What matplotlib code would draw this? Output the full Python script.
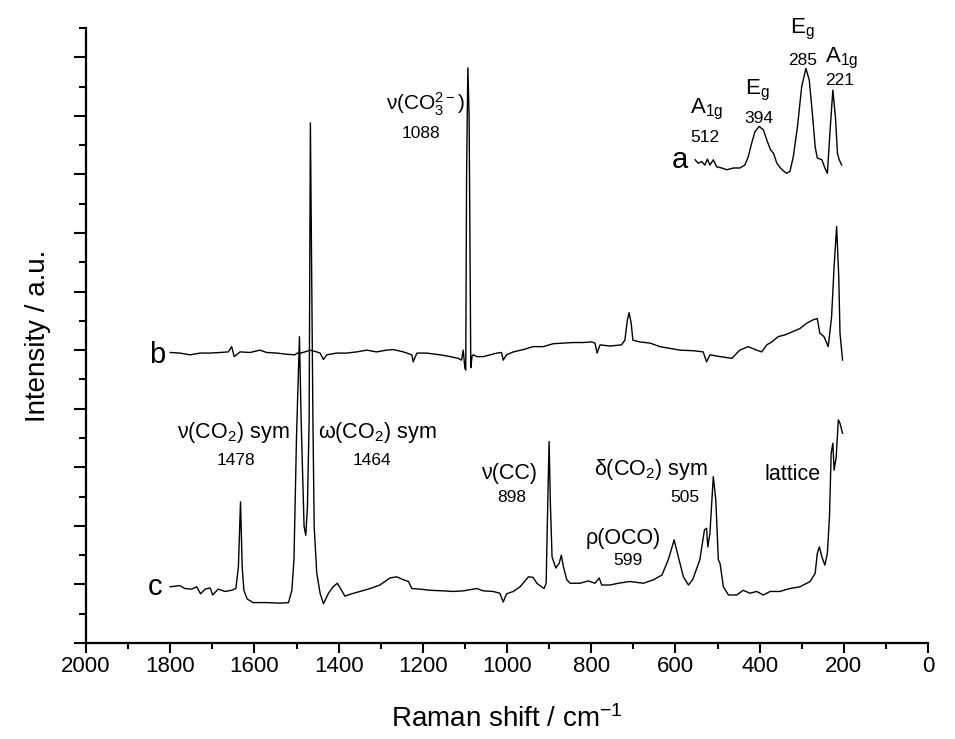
import matplotlib
matplotlib.use("Agg")
import matplotlib.pyplot as plt
from matplotlib.ticker import MultipleLocator, NullFormatter

plt.rcParams['font.family'] = ['Liberation Sans', 'DejaVu Sans']
plt.rcParams['mathtext.fontset'] = 'custom'
plt.rcParams['mathtext.rm'] = 'Liberation Sans'
plt.rcParams['mathtext.it'] = 'Liberation Sans'
plt.rcParams['mathtext.bf'] = 'Liberation Sans:bold'
plt.rcParams['mathtext.default'] = 'regular'

# ---------------- data (Raman shift / cm-1, intensity in a.u.) ----------------
a_x = [553, 546, 538, 530, 524, 518, 510, 502, 490, 478, 462, 447, 435, 427, 419,
       411, 401, 391, 383, 374, 367, 359, 347, 336, 328, 320, 310, 300, 290, 282,
       274, 268, 263, 252, 245, 239, 233, 226, 220, 215, 211, 205]
a_y = [0.25, 0.19, 0.22, 0.16, 0.26, 0.16, 0.25, 0.13, 0.11, 0.08, 0.11, 0.11, 0.16,
       0.30, 0.53, 0.73, 0.82, 0.76, 0.59, 0.42, 0.36, 0.19, 0.08, 0.02, 0.05, 0.30,
       0.82, 1.50, 1.81, 1.61, 0.99, 0.47, 0.28, 0.25, 0.11, 0.02, 0.70, 1.44, 0.99,
       0.36, 0.25, 0.16]

b_x = [1800, 1777, 1753, 1729, 1705, 1682, 1662, 1654, 1648, 1634, 1610, 1587, 1571,
       1547, 1523, 1504, 1498, 1490, 1480, 1468, 1452, 1444, 1436, 1428, 1405, 1381,
       1357, 1333, 1310, 1286, 1270, 1246, 1226, 1223, 1214, 1191, 1159, 1135, 1116,
       1108, 1104, 1100, 1098, 1096, 1093, 1090, 1086, 1083, 1080, 1072, 1056, 1040,
       1024, 1013, 1009, 1001, 985, 961, 938, 914, 890, 866, 843, 819, 799, 791, 786,
       779, 755, 728, 720, 714, 710, 705, 701, 684, 660, 637, 613, 589, 557, 534, 526,
       518, 494, 466, 447, 427, 407, 395, 383, 371, 356, 340, 320, 304, 288, 272, 263,
       257, 247, 237, 229, 223, 217, 212, 209, 203]
b_y = [-0.04, -0.05, -0.08, -0.05, -0.05, -0.04, -0.03, 0.06, -0.11, -0.03, -0.04,
       0.00, -0.04, -0.05, -0.07, -0.08, -0.05, -0.05, -0.03, 0.00, -0.03, -0.05,
       -0.16, -0.08, -0.05, -0.05, -0.03, 0.00, -0.03, 0.00, 0.01, -0.03, -0.08, -0.20,
       -0.05, -0.05, -0.08, -0.11, -0.14, -0.17, 0.00, -0.31, -0.34, 3.00, 4.82, 4.00,
       -0.30, -0.10, -0.08, -0.11, -0.11, -0.08, -0.05, -0.04, -0.17, -0.08, -0.03,
       0.01, 0.06, 0.06, 0.11, 0.12, 0.13, 0.13, 0.14, 0.12, -0.05, 0.09, 0.07, 0.09,
       0.17, 0.52, 0.64, 0.46, 0.17, 0.14, 0.12, 0.06, 0.03, 0.00, -0.01, -0.03, -0.20,
       -0.08, -0.11, -0.14, 0.00, 0.06, 0.00, -0.03, 0.09, 0.14, 0.23, 0.26, 0.32, 0.37,
       0.46, 0.52, 0.54, 0.29, 0.23, 0.06, 0.57, 1.43, 2.11, 1.25, 0.29, -0.17]

c_x = [1800, 1777, 1765, 1749, 1737, 1728, 1717, 1705, 1699, 1686, 1670, 1654, 1644,
       1638, 1633, 1629, 1625, 1617, 1603, 1571, 1539, 1519, 1511, 1506, 1500, 1493,
       1489, 1482, 1478, 1474, 1470, 1467, 1461, 1458, 1452, 1444, 1436, 1424, 1413,
       1403, 1393, 1385, 1369, 1349, 1325, 1302, 1278, 1262, 1246, 1234, 1226, 1207,
       1183, 1151, 1128, 1104, 1072, 1056, 1033, 1017, 1009, 1001, 985, 969, 949, 938,
       929, 918, 912, 907, 904, 900, 897, 893, 884, 876, 871, 866, 858, 850, 827, 807,
       791, 781, 775, 755, 736, 708, 676, 652, 632, 617, 603, 593, 581, 569, 559, 542,
       531, 526, 523, 518, 510, 504, 498, 494, 486, 474, 454, 439, 423, 407, 391, 375,
       352, 328, 304, 280, 268, 263, 258, 252, 245, 239, 234, 230, 226, 223, 218, 213,
       209, 203]
c_y = [-0.04, -0.02, -0.07, -0.08, -0.04, -0.16, -0.08, -0.06, -0.18, -0.08, -0.12,
       -0.10, -0.07, 0.30, 1.41, 0.30, -0.10, -0.25, -0.31, -0.31, -0.32, -0.31, -0.10,
       0.42, 2.52, 4.23, 2.81, 0.99, 0.84, 1.33, 2.81, 7.88, 2.81, 0.99, 0.20, -0.15,
       -0.33, -0.15, -0.04, 0.02, -0.10, -0.20, -0.16, -0.12, -0.07, -0.01, 0.11, 0.13,
       0.08, 0.05, -0.07, -0.08, -0.10, -0.11, -0.12, -0.11, -0.07, -0.11, -0.12, -0.15,
       -0.30, -0.16, -0.12, -0.04, 0.13, 0.12, 0.02, -0.04, -0.07, 0.02, 1.10, 2.44,
       1.39, 0.47, 0.28, 0.36, 0.50, 0.30, 0.08, 0.02, 0.02, 0.06, 0.02, 0.11, -0.01,
       -0.01, 0.02, 0.05, 0.02, 0.08, 0.16, 0.42, 0.76, 0.47, 0.13, -0.01, 0.08, 0.42,
       0.93, 0.96, 0.64, 0.87, 1.84, 1.44, 0.42, 0.36, -0.04, -0.18, -0.18, -0.10,
       -0.15, -0.12, -0.18, -0.12, -0.12, -0.07, -0.04, 0.05, 0.19, 0.53, 0.64, 0.47,
       0.33, 0.53, 1.16, 2.24, 2.41, 1.95, 2.18, 2.81, 2.75, 2.58]

spectra_labels = ['a', 'b', 'c']
offsets = [8.0, 5.0, 1.0]

# ---------------- figure ----------------
fig = plt.figure(figsize=(9.55, 7.39), dpi=100)
ax = fig.add_axes([86/955, 1 - 643/739, (928 - 86)/955, (643 - 28)/739])

for xs, ys, off in zip([a_x, b_x, c_x], [a_y, b_y, c_y], offsets):
    ax.plot(xs, [v + off for v in ys], color='black', lw=1.0)

ax.set_xlim(2000, 0)
ax.set_ylim(0, 10.5)

for s in ['top', 'right']:
    ax.spines[s].set_visible(False)
for s in ['left', 'bottom']:
    ax.spines[s].set_linewidth(1.6)

ax.xaxis.set_major_locator(MultipleLocator(200))
ax.xaxis.set_minor_locator(MultipleLocator(100))
ax.yaxis.set_major_locator(MultipleLocator(1))
ax.yaxis.set_minor_locator(MultipleLocator(0.5))
ax.yaxis.set_major_formatter(NullFormatter())
ax.tick_params(axis='x', which='major', direction='out', length=7, width=1.5,
               labelsize=16, pad=2)
ax.tick_params(axis='x', which='minor', direction='out', length=4, width=1.5)
ax.tick_params(axis='y', which='major', direction='out', length=9, width=1.5)
ax.tick_params(axis='y', which='minor', direction='out', length=5, width=1.5)

ax.set_xlabel('Raman shift / cm$^{-1}$', fontsize=20, labelpad=21)
ax.set_ylabel('Intensity / a.u.', fontsize=20, labelpad=13)

# spectrum letters
for lab, (xx, yy) in zip(spectra_labels, [(589, 8.11), (1831, 4.78), (1836, 0.82)]):
    ax.text(xx, yy, lab, fontsize=21, ha='center', va='baseline')

# band annotations: (x, y, text, size)
annotations = [
    (1195, 9.10, r'$\nu$(CO$_3^{2-}$)', 15),
    (1204, 8.63, '1088', 12.5),
    (525, 9.05, 'A$_{1g}$', 16),
    (530, 8.55, '512', 12.5),
    (406, 9.36, 'E$_g$', 16),
    (401, 8.88, '394', 12.5),
    (299, 10.41, 'E$_g$', 16),
    (297, 9.87, '285', 12.5),
    (204, 9.92, 'A$_{1g}$', 16),
    (211, 9.53, '221', 12.5),
    (1651, 3.50, 'ν(CO$_2$) sym', 15.5),
    (1644, 3.04, '1478', 12.5),
    (1309, 3.50, 'ω(CO$_2$) sym', 15.5),
    (1321, 3.04, '1464', 12.5),
    (995, 2.80, 'ν(CC)', 15.5),
    (988, 2.41, '898', 12.5),
    (658, 2.86, 'δ(CO$_2$) sym', 15.5),
    (577, 2.40, '505', 12.5),
    (724, 1.69, 'ρ(OCO)', 15.5),
    (712, 1.33, '599', 12.5),
    (321, 2.78, 'lattice', 15.5),
]
for xx, yy, t, fs in annotations:
    ax.text(xx, yy, t, fontsize=fs, ha='center', va='baseline')

fig.savefig('out.png', dpi=100)
